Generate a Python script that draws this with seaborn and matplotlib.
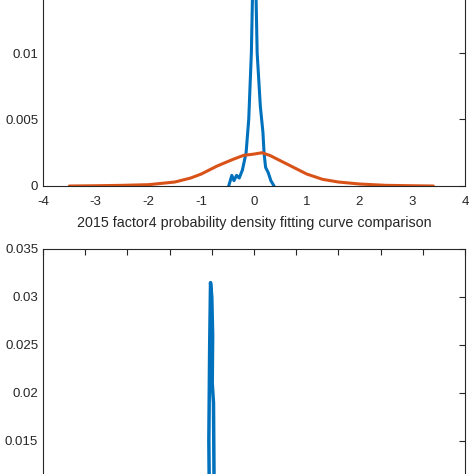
import matplotlib
matplotlib.use("Agg")
import matplotlib.pyplot as plt
import seaborn as sns

sns.set_style("white")
plt.rcParams['font.family'] = ['Liberation Sans', 'DejaVu Sans']
plt.rcParams['axes.unicode_minus'] = False

top_blue_x = [-0.48,-0.42,-0.38,-0.33,-0.28,-0.22,-0.15,-0.1,-0.05,-0.02,0.0,0.03,0.06,0.12,0.17,0.19,0.22,0.27,0.32,0.38]
top_blue_y = [0,0.0008,0.0004,0.0008,0.0006,0.0012,0.0025,0.005,0.01,0.016,0.03,0.016,0.01,0.006,0.004,0.0025,0.0014,0.001,0.0004,0]
top_orange_x = [-3.5,-3,-2.5,-2,-1.5,-1.2,-1,-0.7,-0.4,-0.2,0,0.15,0.3,0.5,0.8,1,1.3,1.6,2,2.5,3,3.4]
top_orange_y = [0,0.00002,0.00005,0.0001,0.0003,0.0006,0.0009,0.0015,0.0020,0.0023,0.0024,0.0025,0.0023,0.0019,0.0013,0.0009,0.0005,0.0003,0.00015,0.00005,0.00002,0]
bot_blue_x = [-0.006,-0.007,-0.006,-0.005,-0.003,0.0,0.002,0.001,0.004,0.006,0.006]
bot_blue_y = [0.0,0.015,0.02,0.025,0.0315,0.030,0.026,0.021,0.019,0.013,0.0]
yticks_top = [0, 0.005, 0.01]
yticks_bot = [0.015, 0.02, 0.025, 0.03, 0.035]
title = "2015 factor4 probability density fitting curve comparison"

BLUE = "#0072BD"; ORANGE = "#D95319"
fig = plt.figure(figsize=(4.74, 4.74), dpi=100)

W, H = 474, 474
def rect(l, r, b, t):
    return [l/W, 1-b/H, (r-l)/W, (b-t)/H]

ax1 = fig.add_axes(rect(43, 465, 186, 186-0.035*13300))
sns.lineplot(x=top_blue_x, y=top_blue_y, sort=False, color=BLUE, lw=2.2, ax=ax1)
sns.lineplot(x=top_orange_x, y=top_orange_y, sort=False, color=ORANGE, lw=2.2, ax=ax1)
ax1.set_xlim(-4, 4); ax1.set_ylim(0, 0.035)
ax1.set_xticks(range(-4, 5))
ax1.set_yticks(yticks_top)
ax1.set_yticklabels([f"{v:g}" for v in yticks_top])
ax1.set_xlabel(title, fontsize=10.3, color="#262626", labelpad=6)

ax2 = fig.add_axes(rect(43, 465, 249+0.035*9600, 249))
sns.lineplot(x=bot_blue_x, y=bot_blue_y, sort=False, color=BLUE, lw=2.5, ax=ax2)
ax2.set_xlim(-0.4, 0.6); ax2.set_ylim(0, 0.035)
ax2.set_xticks([-0.4+0.1*i for i in range(11)])
ax2.set_xticklabels([])
ax2.set_yticks(yticks_bot)
ax2.set_yticklabels([f"{v:g}" for v in yticks_bot])

for ax in (ax1, ax2):
    ax.tick_params(direction="in", top=True, right=True, length=4, labelsize=9.5,
                   colors="#262626", width=0.8)
    ax.tick_params(axis="x", pad=7)
    for s in ax.spines.values():
        s.set_color("#262626"); s.set_linewidth(0.8)

fig.savefig("out.png", dpi=100)
